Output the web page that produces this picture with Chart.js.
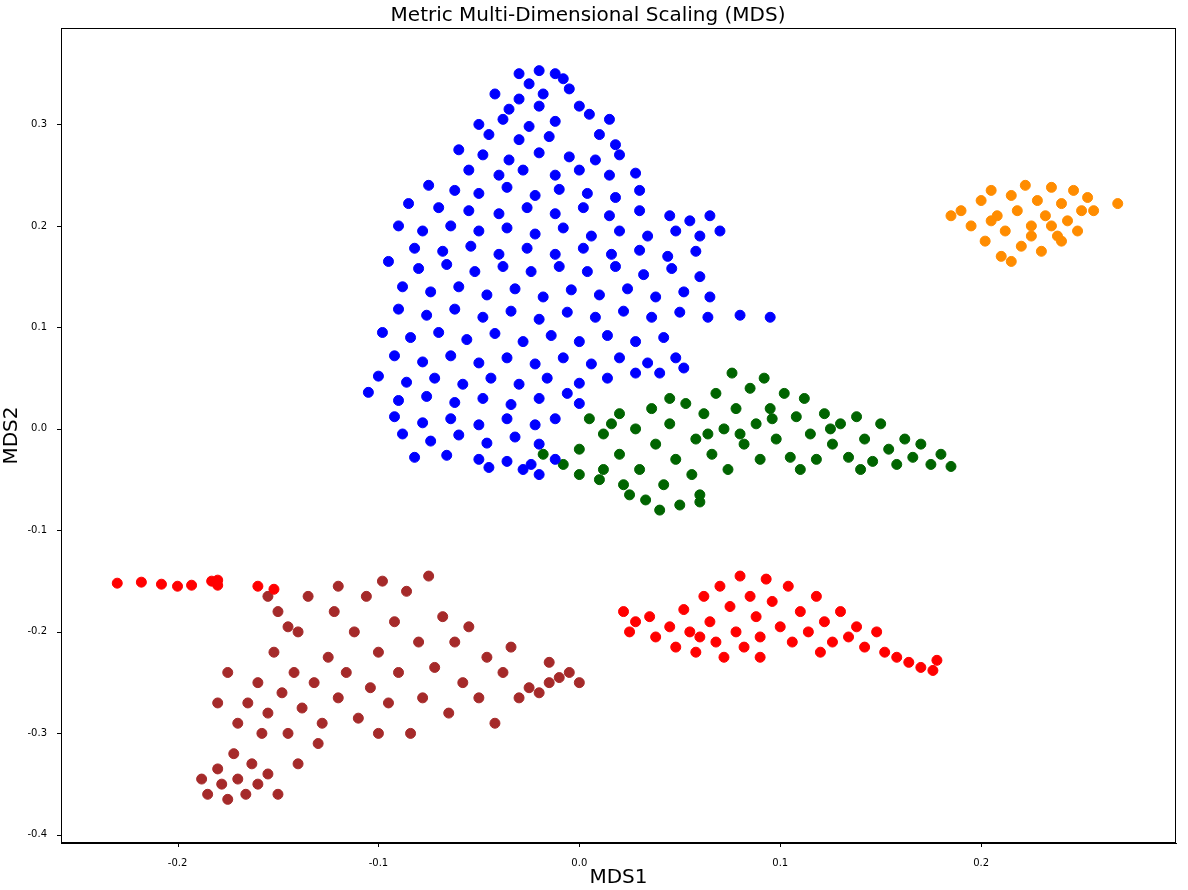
<!DOCTYPE html>
<html>
<head>
<meta charset="utf-8">
<script src="https://cdn.jsdelivr.net/npm/chart.js@4"></script>
<style>body{margin:0;background:#fff}</style>
</head>
<body>
<canvas id="grafico" width="1188" height="890"></canvas>
<script>
// pontos (MDS1, MDS2)
const azul = [
  [-0.03,0.35],[-0.02,0.353],[-0.012,0.35],[-0.025,0.34],[-0.008,0.345],
  [-0.042,0.33],[-0.03,0.325],[-0.018,0.33],[-0.005,0.335],[-0.035,0.315],[-0.02,0.318],[0.0,0.318],
  [-0.05,0.30],[-0.038,0.305],[-0.025,0.298],[-0.012,0.303],[0.005,0.31],[0.015,0.305],[-0.045,0.29],[-0.03,0.285],[-0.015,0.288],[0.01,0.29],[0.018,0.28],
  [-0.06,0.275],[-0.048,0.27],[-0.035,0.265],[-0.02,0.272],[-0.005,0.268],[0.008,0.265],[0.02,0.27],[-0.055,0.255],[-0.04,0.25],[-0.028,0.255],[-0.012,0.25],[0.0,0.255],[0.015,0.25],[0.028,0.252],
  [-0.075,0.24],[-0.062,0.235],[-0.05,0.232],[-0.036,0.238],[-0.022,0.23],[-0.01,0.236],[0.004,0.232],[0.018,0.228],[0.03,0.235],[-0.085,0.222],[-0.07,0.218],[-0.055,0.215],[-0.04,0.212],[-0.026,0.218],[-0.012,0.212],[0.002,0.218],[0.015,0.21],[0.03,0.215],[0.045,0.21],[0.055,0.205],[0.065,0.21],
  [-0.09,0.2],[-0.078,0.195],[-0.064,0.2],[-0.05,0.195],[-0.036,0.198],[-0.022,0.192],[-0.008,0.198],[0.006,0.19],[0.02,0.195],[0.034,0.19],[0.048,0.195],[0.06,0.19],[0.07,0.195],[-0.082,0.178],[-0.068,0.175],[-0.054,0.18],[-0.04,0.172],[-0.026,0.178],[-0.012,0.172],[0.002,0.178],[0.016,0.172],[0.03,0.176],[0.044,0.17],[0.058,0.175],
  [-0.095,0.165],[-0.08,0.158],[-0.066,0.162],[-0.052,0.155],[-0.038,0.16],[-0.024,0.155],[-0.01,0.16],[0.004,0.155],[0.018,0.16],[0.032,0.152],[0.046,0.158],[0.06,0.15],[-0.088,0.14],[-0.074,0.135],[-0.06,0.14],[-0.046,0.132],[-0.032,0.138],[-0.018,0.13],[-0.004,0.137],[0.01,0.132],[0.024,0.138],[0.038,0.13],[0.052,0.135],[0.065,0.13],
  [-0.09,0.118],[-0.076,0.112],[-0.062,0.118],[-0.048,0.11],[-0.034,0.116],[-0.02,0.108],[-0.006,0.115],[0.008,0.11],[0.022,0.116],[0.036,0.11],[0.05,0.115],[0.064,0.11],[0.08,0.112],[0.095,0.11],
  [-0.098,0.095],[-0.084,0.09],[-0.07,0.095],[-0.056,0.088],[-0.042,0.094],[-0.028,0.086],[-0.014,0.092],[0.0,0.086],[0.014,0.092],[0.028,0.086],[0.042,0.09],
  [-0.092,0.072],[-0.078,0.066],[-0.064,0.072],[-0.05,0.065],[-0.036,0.07],[-0.022,0.064],[-0.008,0.07],[0.006,0.064],[0.02,0.07],[0.034,0.065],[0.048,0.07],
  [-0.1,0.052],[-0.086,0.046],[-0.072,0.05],[-0.058,0.044],[-0.044,0.05],[-0.03,0.044],[-0.016,0.05],[0.0,0.045],[0.014,0.05],[0.028,0.055],[0.04,0.055],[0.052,0.06],
  [-0.105,0.036],[-0.09,0.028],[-0.076,0.032],[-0.062,0.026],[-0.048,0.03],[-0.034,0.024],[-0.02,0.03],[-0.006,0.035],[0.0,0.025],
  [-0.092,0.012],[-0.078,0.006],[-0.064,0.01],[-0.05,0.004],[-0.036,0.01],[-0.022,0.004],[-0.012,0.01],
  [-0.088,-0.005],[-0.074,-0.012],[-0.06,-0.006],[-0.046,-0.014],[-0.032,-0.008],[-0.02,-0.015],
  [-0.082,-0.028],[-0.066,-0.026],[-0.05,-0.03],[-0.036,-0.032],[-0.024,-0.035],[-0.012,-0.03],[-0.045,-0.038],[-0.028,-0.04],[-0.02,-0.045]
];
const verde = [
  [-0.018,-0.025],[-0.008,-0.035],[0.0,-0.02],[0.005,0.01],[0.012,-0.005],[0.012,-0.04],[0.02,0.015],[0.02,-0.025],[0.022,-0.055],[0.028,0.0],
  [0.03,-0.04],[0.033,-0.07],[0.036,0.02],[0.038,-0.015],[0.042,-0.055],[0.045,0.005],[0.048,-0.03],[0.05,-0.075],[0.053,0.025],[0.056,-0.045],
  [0.058,-0.01],[0.06,-0.065],[0.062,0.015],[0.066,-0.025],[0.068,0.035],[0.072,0.0],[0.074,-0.04],[0.076,0.055],[0.078,0.02],[0.082,-0.015],
  [0.085,0.04],[0.088,0.005],[0.09,-0.03],[0.092,0.05],[0.095,0.02],[0.098,-0.01],[0.102,0.035],[0.105,-0.028],[0.108,0.012],[0.112,0.03],
  [0.115,-0.005],[0.118,-0.03],[0.122,0.015],[0.126,-0.015],[0.13,0.005],[0.134,-0.028],[0.138,0.012],[0.142,-0.01],[0.146,-0.032],[0.15,0.005],
  [0.154,-0.02],[0.158,-0.035],[0.162,-0.01],[0.166,-0.028],[0.17,-0.015],[0.175,-0.035],[0.18,-0.025],[0.185,-0.037],[0.01,-0.05],[0.025,-0.065],
  [0.04,-0.08],[0.06,-0.072],[0.0,-0.045],[0.016,0.005],[0.045,0.03],[0.064,-0.005],[0.08,-0.005],[0.096,0.01],[0.125,0.0],[0.14,-0.04],[0.11,-0.04]
];
const laranja = [
  [0.185,0.21],[0.19,0.215],[0.195,0.2],[0.2,0.225],[0.202,0.185],[0.205,0.235],[0.208,0.21],[0.21,0.17],[0.212,0.195],[0.215,0.23],
  [0.218,0.215],[0.22,0.18],[0.222,0.24],[0.225,0.2],[0.228,0.225],[0.23,0.175],[0.232,0.21],[0.235,0.238],[0.238,0.19],[0.24,0.222],
  [0.243,0.205],[0.246,0.235],[0.248,0.195],[0.25,0.215],[0.253,0.228],[0.256,0.215],[0.268,0.222],[0.215,0.165],[0.225,0.19],[0.205,0.205],
  [0.235,0.2],[0.24,0.185]
];
const vermelho = [
  [-0.23,-0.152],[-0.218,-0.151],[-0.208,-0.153],[-0.2,-0.155],[-0.193,-0.154],[-0.183,-0.15],[-0.18,-0.149],[-0.18,-0.154],[-0.16,-0.155],[-0.152,-0.158],
  [0.022,-0.18],[0.028,-0.19],[0.025,-0.2],[0.035,-0.185],[0.038,-0.205],[0.045,-0.195],[0.048,-0.215],[0.052,-0.178],[0.055,-0.2],[0.058,-0.22],
  [0.062,-0.165],[0.065,-0.19],[0.068,-0.21],[0.07,-0.155],[0.072,-0.225],[0.075,-0.175],[0.078,-0.2],[0.08,-0.145],[0.082,-0.215],[0.085,-0.165],
  [0.088,-0.185],[0.09,-0.205],[0.093,-0.148],[0.096,-0.17],[0.1,-0.195],[0.104,-0.155],[0.106,-0.21],[0.11,-0.18],[0.114,-0.2],[0.118,-0.165],
  [0.122,-0.19],[0.126,-0.21],[0.13,-0.18],[0.134,-0.205],[0.138,-0.195],[0.142,-0.215],[0.148,-0.2],[0.152,-0.22],[0.158,-0.225],[0.164,-0.23],
  [0.17,-0.235],[0.178,-0.228],[0.176,-0.238],[0.12,-0.22],[0.09,-0.225],[0.06,-0.205]
];
const marrom = [
  [-0.188,-0.345],[-0.185,-0.36],[-0.18,-0.335],[-0.178,-0.35],[-0.175,-0.365],[-0.172,-0.32],[-0.17,-0.345],[-0.166,-0.36],[-0.163,-0.33],[-0.16,-0.35],
  [-0.158,-0.3],[-0.155,-0.34],[-0.15,-0.36],[-0.17,-0.29],[-0.165,-0.27],[-0.16,-0.25],[-0.155,-0.28],[-0.152,-0.22],[-0.148,-0.26],[-0.145,-0.3],
  [-0.142,-0.24],[-0.14,-0.2],[-0.138,-0.275],[-0.135,-0.165],[-0.132,-0.25],[-0.128,-0.29],[-0.125,-0.225],[-0.122,-0.18],[-0.12,-0.265],[-0.116,-0.24],
  [-0.112,-0.2],[-0.11,-0.285],[-0.106,-0.165],[-0.104,-0.255],[-0.1,-0.22],[-0.098,-0.15],[-0.095,-0.27],[-0.092,-0.19],[-0.09,-0.24],[-0.086,-0.16],
  [-0.084,-0.3],[-0.08,-0.21],[-0.078,-0.265],[-0.075,-0.145],[-0.072,-0.235],[-0.068,-0.185],[-0.065,-0.28],[-0.062,-0.21],[-0.058,-0.25],[-0.055,-0.195],
  [-0.05,-0.265],[-0.046,-0.225],[-0.042,-0.29],[-0.038,-0.24],[-0.034,-0.215],[-0.03,-0.265],[-0.025,-0.255],[-0.02,-0.26],[-0.015,-0.25],[-0.01,-0.245],
  [-0.005,-0.24],[0.0,-0.25],[-0.015,-0.23],[-0.155,-0.165],[-0.15,-0.18],[-0.145,-0.195],[-0.18,-0.27],[-0.175,-0.24],[-0.14,-0.33],[-0.13,-0.31],
  [-0.1,-0.3],[-0.12,-0.155]
];
const ticksX = [-0.2, -0.1, 0.0, 0.1, 0.2];
const ticksY = [-0.4, -0.3, -0.2, -0.1, 0.0, 0.1, 0.2, 0.3];

const serie = (pts, cor) => ({
  data: pts.map(p => ({ x: p[0], y: p[1] })),
  backgroundColor: cor,
  borderColor: cor,
  pointRadius: 5,
  pointHoverRadius: 5
});

const fonte = "'DejaVu Sans', sans-serif";

// moldura completa e marcas dos ticks, como no matplotlib
const moldura = {
  id: "moldura",
  afterDraw(chart) {
    const { ctx, chartArea: a, scales } = chart;
    ctx.save();
    ctx.strokeStyle = "#000";
    ctx.lineWidth = 1;
    ctx.strokeRect(a.left + 0.5, a.top + 0.5, a.right - a.left - 1, a.bottom - a.top - 1);
    ctx.beginPath();
    ticksX.forEach(v => {
      const x = Math.round(scales.x.getPixelForValue(v)) + 0.5;
      ctx.moveTo(x, a.bottom); ctx.lineTo(x, a.bottom + 4);
    });
    ticksY.forEach(v => {
      const y = Math.round(scales.y.getPixelForValue(v)) + 0.5;
      ctx.moveTo(a.left, y); ctx.lineTo(a.left - 4, y);
    });
    ctx.stroke();
    ctx.restore();
  }
};

new Chart(document.getElementById("grafico"), {
  type: "scatter",
  data: {
    datasets: [
      serie(azul, "#0000ff"),
      serie(verde, "#006400"),
      serie(laranja, "#ff8c00"),
      serie(vermelho, "#ff0000"),
      serie(marrom, "#a52a2a")
    ]
  },
  plugins: [moldura],
  options: {
    responsive: false,
    animation: false,
    layout: { padding: { right: 12 } },
    plugins: {
      legend: { display: false },
      tooltip: { enabled: false },
      title: {
        display: true,
        text: "Metric Multi-Dimensional Scaling (MDS)",
        color: "#000",
        font: { family: fonte, size: 20, weight: "normal" },
        padding: { top: 4, bottom: 0 }
      }
    },
    scales: {
      x: {
        min: -0.258,
        max: 0.297,
        afterBuildTicks: s => { s.ticks = ticksX.map(v => ({ value: v })); },
        afterFit: s => { s.height = 47; },
        grid: { display: false },
        border: { color: "#000" },
        ticks: { color: "#000", font: { family: fonte, size: 10 }, padding: 6, callback: v => v.toFixed(1) },
        title: { display: true, text: "MDS1", color: "#000", font: { family: fonte, size: 20 }, padding: 0 }
      },
      y: {
        min: -0.408,
        max: 0.395,
        afterBuildTicks: s => { s.ticks = ticksY.map(v => ({ value: v })); },
        afterFit: s => { s.width = 61; },
        grid: { display: false },
        border: { color: "#000" },
        ticks: { color: "#000", font: { family: fonte, size: 10 }, padding: 6, callback: v => v.toFixed(1) },
        title: { display: true, text: "MDS2", color: "#000", font: { family: fonte, size: 20 }, padding: 0 }
      }
    }
  }
});
</script>
</body>
</html>
